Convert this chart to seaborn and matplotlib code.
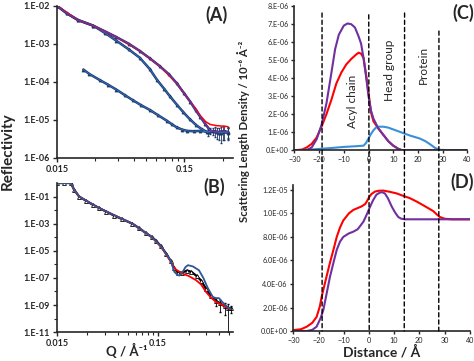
import numpy as np
import matplotlib
matplotlib.use("Agg")
import matplotlib.pyplot as plt
import seaborn as sns
from matplotlib.patches import ConnectionPatch
from matplotlib.ticker import FixedLocator, FuncFormatter, NullFormatter

# -----------------------------
# DATA
# -----------------------------
# (A) reflectivity, three contrasts
q_a_top = [0.015, 0.018, 0.022, 0.0289, 0.036, 0.044, 0.055, 0.067, 0.08, 0.096, 0.113,
           0.131, 0.148, 0.167, 0.184, 0.2, 0.22, 0.24, 0.27, 0.30, 0.33]
r_a_top = [1.0e-2, 6.3e-3, 4.2e-3, 3.0e-3, 2.1e-3, 1.5e-3, 1.0e-3, 6.5e-4, 4.2e-4, 2.6e-4, 1.6e-4,
           9.1e-5, 5.2e-5, 3.0e-5, 1.8e-5, 1.2e-5, 7.6e-6, 5.2e-6, 4.7e-6, 5.0e-6, 4.8e-6]
q_a_top_red = [0.015, 0.022, 0.0289, 0.044, 0.067, 0.096, 0.131, 0.167, 0.184, 0.2, 0.22, 0.24, 0.27, 0.30, 0.33]
r_a_top_red = [1.0e-2, 4.2e-3, 3.0e-3, 1.5e-3, 6.5e-4, 2.6e-4, 9.1e-5, 3.0e-5, 2.0e-5, 1.3e-5, 9.0e-6,
               7.5e-6, 7.0e-6, 6.8e-6, 6.6e-6]

q_a_mid = [0.015, 0.018, 0.022, 0.0289, 0.036, 0.044, 0.055, 0.067, 0.08, 0.092, 0.104,
           0.116, 0.131, 0.147, 0.165, 0.187, 0.207, 0.227, 0.25, 0.28, 0.31, 0.33]
r_a_mid = [1.0e-2, 6.3e-3, 4.2e-3, 3.0e-3, 1.9e-3, 1.2e-3, 7.1e-4, 4.3e-4, 2.2e-4, 1.1e-4, 6.6e-5,
           4.1e-5, 2.5e-5, 1.6e-5, 1.05e-5, 7.1e-6, 5.6e-6, 4.7e-6, 5.0e-6, 4.5e-6, 5.0e-6, 4.5e-6]

q_a_low = [0.0242, 0.027, 0.0327, 0.038, 0.044, 0.051, 0.059, 0.069, 0.0808, 0.094, 0.109,
           0.12, 0.131, 0.145, 0.158, 0.178, 0.2, 0.23, 0.26, 0.29, 0.33]
r_a_low = [2.1e-4, 1.6e-4, 1.1e-4, 8.3e-5, 6.2e-5, 4.5e-5, 3.3e-5, 2.4e-5, 1.8e-5, 1.3e-5, 9.5e-6,
           7.6e-6, 6.3e-6, 5.5e-6, 5.1e-6, 5.0e-6, 5.1e-6, 4.8e-6, 5.0e-6, 4.5e-6, 4.7e-6]
e_a_end = [1.0e-6, 1.5e-6, 2.0e-6, 1.5e-6]   # error bars on the last points

# (B) reflectivity with fringes
q_b = [0.015, 0.0175, 0.0206, 0.0222, 0.0249, 0.029, 0.034, 0.0394, 0.046, 0.055, 0.066,
       0.0836, 0.098, 0.115, 0.13, 0.143, 0.16, 0.18, 0.2, 0.217, 0.235, 0.26, 0.29, 0.32,
       0.36, 0.40, 0.45, 0.50, 0.56, 0.62, 0.68, 0.74, 0.78]
r_b = [1.0, 1.0, 1.0, 3.2e-1, 1.0e-1, 5.0e-2, 2.5e-2, 1.4e-2, 7.8e-3, 4.0e-3, 2.2e-3,
       1.0e-3, 4.6e-4, 1.9e-4, 1.05e-4, 5.6e-5, 2.2e-5, 6.3e-6, 1.8e-6, 5.0e-7, 2.5e-7, 2.5e-7,
       3.5e-7, 2.8e-7, 1.4e-7, 6.3e-8, 1.4e-8, 4.5e-9, 2.0e-9, 1.3e-9, 7.9e-10, 6.3e-10, 5.6e-10]
e_b_end = [1.2e-9, 1.0e-9, 6.0e-10, 6.2e-10, 3.0e-10]

q_b_red = [0.015, 0.0206, 0.0222, 0.0249, 0.0394, 0.0836, 0.13, 0.16, 0.18, 0.2, 0.217, 0.26,
           0.30, 0.356, 0.40, 0.447, 0.5, 0.56, 0.65, 0.73, 0.78]
r_b_red = [1.0, 1.0, 3.2e-1, 1.0e-1, 1.4e-2, 1.0e-3, 1.0e-4, 2.0e-5, 5.5e-6, 1.6e-6, 5.0e-7, 2.1e-7,
           1.4e-7, 6.8e-8, 3.2e-8, 9.1e-9, 3.5e-9, 1.7e-9, 1.0e-9, 6.3e-10, 5.0e-10]
q_b_blue = [0.015, 0.0206, 0.0222, 0.0249, 0.0394, 0.0836, 0.13, 0.16, 0.18, 0.2, 0.217, 0.235,
            0.244, 0.26, 0.28, 0.296, 0.33, 0.38, 0.42, 0.46, 0.52, 0.56, 0.6, 0.65, 0.73, 0.78]
r_b_blue = [1.0, 1.0, 3.2e-1, 1.0e-1, 1.4e-2, 1.0e-3, 1.05e-4, 2.2e-5, 6.3e-6, 1.8e-6, 2.8e-7, 1.6e-7,
            1.5e-7, 2.5e-7, 6.3e-7, 8.7e-7, 7.1e-7, 3.7e-7, 1.0e-7, 2.1e-8, 4.0e-9, 3.2e-9, 3.2e-9,
            1.6e-9, 7.1e-10, 5.0e-10]

# (C) SLD profiles, in units of 1e-6 A^-2
d_c_purple = [-30, -25, -23, -21, -19, -17, -15, -13.5, -12, -10, -8.5, -7, -5.5, -4, -3, -2, -1,
              0, 1, 2, 4, 6, 8, 10, 12, 13.5, 20, 30, 40]
s_c_purple = [0, 0, 0.15, 0.6, 1.4, 2.6, 4.3, 5.6, 6.4, 6.9, 7.02, 6.98, 6.8, 6.3, 5.9, 5.1, 4.1,
              3.0, 2.2, 1.75, 1.2, 0.85, 0.5, 0.25, 0.08, 0, 0, 0, 0]
d_c_red = [-30, -27, -25, -23, -21, -19, -17, -15, -13, -11, -9, -7, -5, -4, -3, -2, -1, 0, 1, 2,
           3, 4, 6, 8, 10, 12, 13.5]
s_c_red = [0, 0.03, 0.15, 0.35, 0.7, 1.3, 2.0, 2.8, 3.7, 4.3, 4.75, 5.05, 5.3, 5.4, 5.35, 5.1,
           4.2, 3.2, 2.1, 1.6, 1.4, 1.2, 0.85, 0.5, 0.25, 0.08, 0]
d_c_blue = [-30, -25, -20, -15, -10, -5, -2, -1, 0, 1, 2, 3, 4, 6, 8, 10, 12, 14.6, 17, 20.7, 23,
            25, 27, 29, 32, 40]
s_c_blue = [0, 0.02, 0.07, 0.12, 0.18, 0.22, 0.25, 0.4, 0.65, 0.9, 1.1, 1.25, 1.3, 1.3, 1.25,
            1.15, 1.05, 0.92, 0.8, 0.65, 0.5, 0.32, 0.12, 0.02, 0, 0]

# (D) SLD profiles, in units of 1e-6 A^-2
d_d_red = [-30, -27, -24.7, -22.5, -20.8, -19.5, -18.8, -17, -15.5, -14, -12.8, -11.5, -10.2, -8,
           -6.2, -4, -2.9, -1.5, -0.9, 0.1, 1, 2.4, 4, 5.7, 8, 11, 13.5, 16.2, 19, 21.5, 23.5,
           25.5, 27, 28.1, 30, 33, 40]
s_d_red = [0.08, 0.15, 0.37, 0.7, 1.2, 2.1, 2.9, 4.5, 5.8, 7.0, 8.0, 8.8, 9.4, 10.0, 10.3, 10.5,
           10.6, 10.8, 11.0, 11.4, 11.65, 11.86, 11.93, 11.94, 11.85, 11.7, 11.5, 11.3, 11.0, 10.7,
           10.45, 10.2, 9.9, 9.7, 9.55, 9.5, 9.5]
d_d_purple = [-30, -24.7, -22.5, -20.8, -19.2, -18.1, -16.8, -15.5, -14, -12.8, -11.5, -10.2, -8,
              -6.2, -4.5, -3.6, -2.2, -0.9, 0.5, 1.7, 3, 4.3, 5.3, 6.3, 7.5, 9, 10.3, 11.6, 12.8,
              14.3, 20, 30, 40]
s_d_purple = [0, 0, 0.1, 0.37, 1.1, 1.8, 3.2, 4.6, 5.9, 6.9, 7.6, 8.0, 8.3, 8.45, 8.65, 8.9, 9.3,
              9.9, 10.6, 11.15, 11.6, 11.77, 11.8, 11.7, 11.3, 10.6, 10.1, 9.7, 9.55, 9.5, 9.5,
              9.5, 9.5]

# region boundaries (dashed lines) as seen in C and in D
bounds_c = [-18.8, 0.1, 14.6, 28.5]
bounds_c_top = [7.6, 7.5, 7.6, 6.6]
bounds_d = [-18.6, 0.1, 14.0, 27.7]
regions = ["Acyl chain", "Head group", "Protein"]
region_x = [-6.4, 8.5, 22.0]
region_y = [2.7, 4.4, 4.7]

PURPLE = "#7030A0"
RED = "#FF0000"
BLUE = "#2E75D0"
NAVY = "#1F3864"

# -----------------------------
# STYLE
# -----------------------------
sns.set_theme(style="ticks")
plt.rcParams["font.family"] = ["Lato", "DejaVu Sans"]
plt.rcParams["axes.linewidth"] = 1.2
plt.rcParams["xtick.major.width"] = 1.0
plt.rcParams["ytick.major.width"] = 1.0


def excel_sci(v, pos):
    return f"{v:.0E}".replace("E", ".E")


def excel_sci1(v, pos):
    return f"{v:.1E}"


fig = plt.figure(figsize=(4.74, 3.61), dpi=100)

# -----------------------------
# (A)
# -----------------------------
axA = fig.add_axes([0.120, 0.563, 0.371, 0.421])
for q, r in [(q_a_top, r_a_top), (q_a_mid, r_a_mid), (q_a_low, r_a_low)]:
    sns.lineplot(x=q, y=r, ax=axA, color=NAVY, lw=1.8, sort=False, estimator=None)
    axA.plot(q, r, ls="none", marker="^", ms=2.2, color=NAVY, mew=0.5)
    axA.errorbar(q[-4:], r[-4:], yerr=e_a_end, fmt="none", ecolor=NAVY, elinewidth=0.6, capsize=1)
sns.lineplot(x=q_a_mid, y=r_a_mid, ax=axA, color=BLUE, lw=0.6, sort=False, estimator=None)
sns.lineplot(x=q_a_low, y=r_a_low, ax=axA, color=BLUE, lw=0.6, sort=False, estimator=None)
sns.lineplot(x=q_a_top_red, y=r_a_top_red, ax=axA, color=RED, lw=1.1, sort=False, estimator=None)
sns.lineplot(x=q_a_top, y=r_a_top, ax=axA, color=PURPLE, lw=1.1, sort=False, estimator=None)
axA.set_ylim(1e-6, 1e-2)
axA.set_xlim(0.015, 0.36)

# -----------------------------
# (B)
# -----------------------------
axB = fig.add_axes([0.120, 0.080, 0.371, 0.413])
axB.plot(q_b, r_b, color="black", lw=1.6)
axB.plot(q_b, r_b, ls="none", marker="^", ms=2.8, mfc="white", mec="black", mew=0.6)
axB.errorbar(q_b[-5:], r_b[-5:], yerr=e_b_end, fmt="none", ecolor="black", elinewidth=0.6, capsize=1)
sns.lineplot(x=q_b_red, y=r_b_red, ax=axB, color=RED, lw=1.3, sort=False, estimator=None)
sns.lineplot(x=q_b_blue, y=r_b_blue, ax=axB, color="#2F5597", lw=1.3, sort=False, estimator=None)
axB.set_ylim(1e-11, 1.0)
axB.set_xlim(0.015, 0.82)

for ax, xmax in [(axA, 0.36), (axB, 0.82)]:
    ax.set_xscale("log")
    ax.set_yscale("log")
    ax.xaxis.set_major_locator(FixedLocator([0.015, 0.15]))
    minor = [0.015 * k for k in range(2, 10)] + [0.15 * k for k in range(2, 10)]
    ax.xaxis.set_minor_locator(FixedLocator([m for m in minor if m <= xmax]))
    ax.xaxis.set_major_formatter(FuncFormatter(lambda v, p: f"{v:g}"))
    ax.xaxis.set_minor_formatter(NullFormatter())
    ax.yaxis.set_major_formatter(FuncFormatter(excel_sci))
    ax.yaxis.set_minor_formatter(NullFormatter())
    ax.tick_params(axis="both", which="major", length=3, labelsize=6.5, pad=2)
    ax.tick_params(axis="x", which="minor", length=2, width=0.8)
    sns.despine(ax=ax)

axA.yaxis.set_major_locator(FixedLocator([1e-6, 1e-5, 1e-4, 1e-3, 1e-2]))
axA.yaxis.set_minor_locator(FixedLocator([]))
axB.yaxis.set_major_locator(FixedLocator([1e-11, 1e-9, 1e-7, 1e-5, 1e-3, 1e-1]))
axB.yaxis.set_minor_locator(FixedLocator([1e-10, 1e-8, 1e-6, 1e-4, 1e-2]))
axB.tick_params(axis="y", which="minor", length=2, width=0.8)
for lab in axA.get_xticklabels() + axA.get_yticklabels() + axB.get_xticklabels() + axB.get_yticklabels():
    lab.set_fontweight("bold")

fig.text(0.268, 0.028, "Q / Å⁻¹", ha="center", va="center", fontsize=9.5, fontweight="bold")
fig.text(0.017, 0.58, "Reflectivity", rotation=90, ha="center", va="center",
         fontsize=11, fontweight="bold")

# -----------------------------
# (C)
# -----------------------------
axC = fig.add_axes([0.621, 0.584, 0.365, 0.400])
sns.lineplot(x=d_c_red, y=np.array(s_c_red) * 1e-6, ax=axC, color=RED, lw=1.5, sort=False, estimator=None)
sns.lineplot(x=d_c_blue, y=np.array(s_c_blue) * 1e-6, ax=axC, color="#3A8FD9", lw=1.5, sort=False, estimator=None)
sns.lineplot(x=d_c_purple, y=np.array(s_c_purple) * 1e-6, ax=axC, color=PURPLE, lw=1.5, sort=False, estimator=None)
axC.set_xlim(-30, 40)
axC.set_ylim(0, 8e-6)
axC.set_yticks(np.arange(0, 8.5e-6, 1e-6))
axC.yaxis.set_major_formatter(FuncFormatter(excel_sci))
for name, x, y in zip(regions, region_x, region_y):
    axC.text(x, y * 1e-6, name, rotation=90, ha="center", va="center", fontsize=8.5)

# -----------------------------
# (D)
# -----------------------------
axD = fig.add_axes([0.619, 0.083, 0.372, 0.404])
sns.lineplot(x=d_d_red, y=np.array(s_d_red) * 1e-6, ax=axD, color=RED, lw=1.5, sort=False, estimator=None)
sns.lineplot(x=d_d_purple, y=np.array(s_d_purple) * 1e-6, ax=axD, color=PURPLE, lw=1.5, sort=False, estimator=None)
axD.set_xlim(-30, 40)
axD.set_ylim(0, 1.24e-5)
axD.set_yticks(np.arange(0, 1.3e-5, 2e-6))
axD.yaxis.set_major_formatter(FuncFormatter(excel_sci1))
axD.set_xlabel("Distance / Å", fontsize=10, fontweight="bold", labelpad=1)

for ax in (axC, axD):
    ax.set_xticks(range(-30, 41, 10))
    ax.tick_params(axis="both", length=2.5, labelsize=5.2, pad=1.5)
    sns.despine(ax=ax)

fig.text(0.513, 0.637, "Scattering Length Density / 10⁻⁶ Å⁻²", rotation=90, ha="center",
         va="center", fontsize=8.2, fontweight="bold")

# dashed region boundaries running through C and D
for xc, yt, xd in zip(bounds_c, bounds_c_top, bounds_d):
    con = ConnectionPatch(xyA=(xc, yt * 1e-6), coordsA=axC.transData,
                          xyB=(xd, 0), coordsB=axD.transData,
                          color="black", lw=1.0, linestyle=(0, (3, 2.2)))
    fig.add_artist(con)

# panel letters
for x, y, s in [(0.433, 0.958, "(A)"), (0.430, 0.482, "(B)"),
                (0.954, 0.963, "(C)"), (0.950, 0.495, "(D)")]:
    fig.text(x, y, s, ha="left", va="center", fontsize=13, fontweight="bold")

fig.savefig("out.png", dpi=100)
